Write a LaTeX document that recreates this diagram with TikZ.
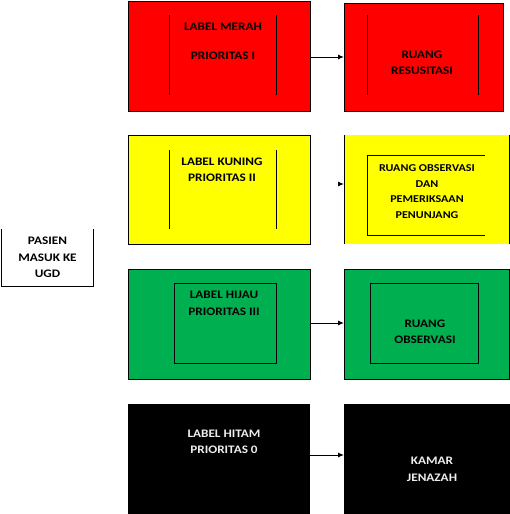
\documentclass[tikz,border=0pt]{standalone}
\usepackage{fontspec}
\setmainfont[FakeStretch=1.15]{Carlito}
\usetikzlibrary{arrows.meta}
\definecolor{merah}{HTML}{FF0000}
\definecolor{kuning}{HTML}{FFFF00}
\definecolor{hijau}{HTML}{00B050}
\definecolor{putih}{HTML}{EDEDED}
\begin{document}
\begin{tikzpicture}[x=1pt, y=-1pt,
    kotak/.style={minimum width=182pt, minimum height=110pt, inner sep=0pt, outer sep=0pt},
    tulisan/.style={font=\bfseries\fontsize{11.5}{16.5}\selectfont, align=center, inner sep=0pt},
    garis/.style={line width=1pt},
    panah/.style={line width=1pt, -{Latex[length=6pt, width=5pt]}}]
    \useasboundingbox (0, 0) rectangle (510, 514);

    % pasien
    \node[minimum width=91pt, minimum height=57pt, inner sep=0pt] (pasien) at (47.5, 257.5) {};
    \draw[garis] (pasien.north west) -- (pasien.south west) -- (pasien.south east) -- (pasien.north east);
    \node[tulisan] (tpasien) at (pasien) {PASIEN\\MASUK KE\\UGD};

    % merah
    \node[kotak, fill=merah, draw, garis] (merahL) at (219, 56) {};
    \node[kotak, fill=merah, draw, garis, minimum width=159pt, minimum height=108pt] (merahR) at (423.5, 57) {};
    \draw[garis] (169, 15) -- (169, 95);
    \draw[garis] (276, 15) -- (276, 95);
    \draw[garis] (367, 15) -- (367, 95);
    \draw[garis] (478, 15) -- (478, 95);
    \node[tulisan] (tmerahL) at (223, 41.5) {LABEL MERAH\\[12pt]PRIORITAS I};
    \node[tulisan] (tmerahR) at (422, 63) {RUANG\\RESUSITASI};
    \draw[panah] (merahL.east |- merahR.west) -- (merahR.west);

    % kuning
    \node[kotak, fill=kuning, draw, garis, minimum height=109pt] (kuningL) at (219, 189.5) {};
    \node[kotak, fill=kuning, minimum width=165pt, minimum height=109pt] (kuningR) at (426.5, 189.5) {};
    \draw[garis] (kuningR.north west) -- (kuningR.south west);
    \draw[garis] (kuningR.north east) -- (kuningR.south east);
    \draw[garis] (169, 150) -- (169, 229);
    \draw[garis] (276, 150) -- (276, 229);
    \draw[garis] (485, 155) -- (367, 155) -- (367, 235) -- (485, 235);
    \node[tulisan] (tkuningL) at (222, 170) {LABEL KUNING\\PRIORITAS II};
    \node[tulisan, font=\bfseries\fontsize{10.5}{15.5}\selectfont] (tkuningR) at (427, 191.5) {RUANG OBSERVASI\\DAN\\PEMERIKSAAN\\PENUNJANG};
    \draw[panah, shorten <=28pt] ([yshift=5.5pt]kuningL.east) -- ([yshift=5.5pt]kuningR.west);

    % hijau
    \node[kotak, fill=hijau, draw, garis] (hijauL) at (219, 324) {};
    \node[kotak, fill=hijau, draw, garis, minimum width=165pt] (hijauR) at (426.5, 324) {};
    \draw[garis] (174, 283) rectangle (276, 363);
    \draw[garis] (370, 283) rectangle (478, 363);
    \node[tulisan] (thijauL) at (224, 303.5) {LABEL HIJAU\\PRIORITAS III};
    \node[tulisan] (thijauR) at (425, 332) {RUANG\\OBSERVASI};
    \draw[panah] ([yshift=1pt]hijauL.east) -- ([yshift=1pt]hijauR.west);

    % hitam
    \node[kotak, fill=black] (hitamL) at (219, 459) {};
    \node[kotak, fill=black, minimum width=166pt] (hitamR) at (427, 459) {};
    \node[tulisan, text=putih] (thitamL) at (224, 442) {LABEL HITAM\\PRIORITAS 0};
    \node[tulisan, text=putih] (thitamR) at (432, 469.5) {KAMAR\\JENAZAH};
    \draw[panah] ([yshift=4pt]hitamL.east) -- ([yshift=4pt]hitamR.west);
\end{tikzpicture}
\end{document}
